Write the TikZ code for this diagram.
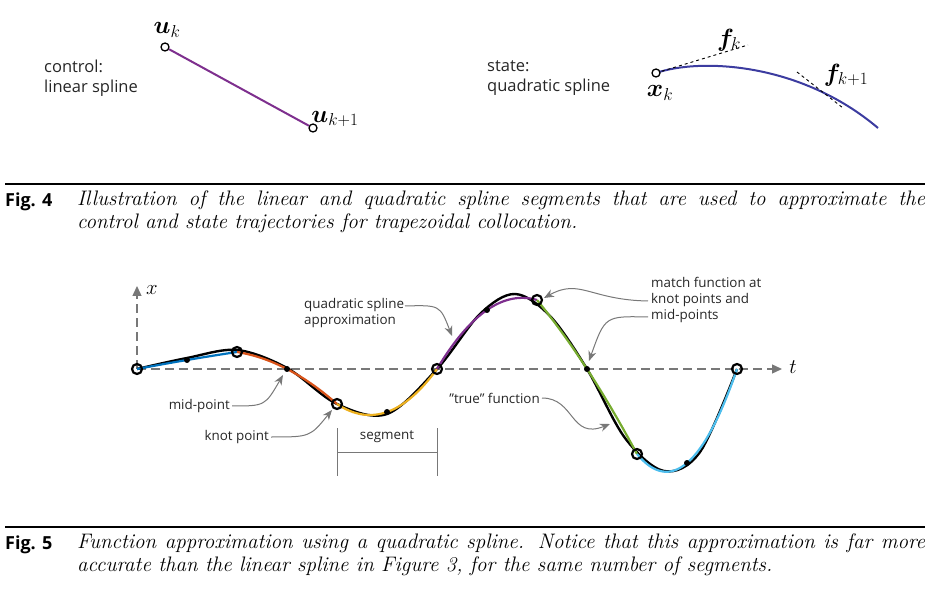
\documentclass[tikz,border=0pt]{standalone}
\usepackage{amsmath,bm}
\usepackage{fontspec}
\setsansfont{Open Sans}
\usetikzlibrary{calc,arrows.meta}
\definecolor{cblue}{RGB}{0,114,189}
\definecolor{corange}{RGB}{217,83,25}
\definecolor{cyellow}{RGB}{237,177,32}
\definecolor{cpurple}{RGB}{126,47,142}
\definecolor{cgreen}{RGB}{119,172,48}
\definecolor{ccyan}{RGB}{77,190,238}
\definecolor{cnavy}{RGB}{60,60,160}
\definecolor{annot}{RGB}{120,120,120}
\tikzset{
  ann/.style={font=\sffamily\fontsize{13.4}{16}\selectfont, text=black!85, inner sep=1pt},
  annarrow/.style={draw=annot, line width=1pt, -{Stealth[length=10pt,width=8pt]}},
  knot/.style={circle, draw=black, line width=2.2pt, fill=none, inner sep=0pt, minimum size=10pt},
  smallknot/.style={circle, draw=black, line width=1.3pt, fill=white, inner sep=0pt, minimum size=8pt},
  mid/.style={circle, fill=black, inner sep=0pt, minimum size=6pt},
  captext/.style={font=\fontsize{21}{23}\selectfont\itshape, anchor=north west, inner sep=0pt, text width=848pt, align=justify},
  figlab/.style={font=\sffamily\bfseries\fontsize{18}{20}\selectfont, anchor=north west, inner sep=0pt},
  axis/.style={draw=annot, dash pattern=on 9pt off 5pt, line width=1.3pt},
  mathlab/.style={font=\fontsize{24}{26}\selectfont, inner sep=0pt},
  toplab/.style={font=\sffamily\fontsize{16.5}{20}\selectfont, text=black!85, anchor=west, align=left, inner sep=0pt}
}
\begin{document}
\begin{tikzpicture}[x=1pt,y=-1pt]
\useasboundingbox (0,0) rectangle (943,612);
% ---------- Fig 4 ----------
\node[toplab] (ctl) at (44,78) {control:\\linear spline};
\node[smallknot] (uk) at (165,47) {};
\node[smallknot] (uk1) at (313,128) {};
\draw[cpurple, line width=2pt] (uk) -- (uk1);
\node[mathlab] (ukl) at (167,30) {$\bm{u}_k$};
\node[mathlab] (uk1l) at (335,119) {$\bm{u}_{k+1}$};
\node[toplab] (st) at (487,78) {state:\\quadratic spline};
\coordinate (xk) at (656,73);
\coordinate (xe) at (878,128);
\draw[cnavy, line width=2pt] (xk) .. controls (700,58) and (800,62) .. (xe);
\coordinate (fa) at (748,45);
\draw[dashed, line width=0.9pt] (xk) -- (fa);
\coordinate (fb1) at (797,72);
\coordinate (fb2) at (843,108);
\draw[dashed, line width=0.9pt] (fb1) -- (fb2);
\node[smallknot] (xkn) at (xk) {};
\node[mathlab] (xkl) at (660,93) {$\bm{x}_k$};
\node[mathlab] (fkl) at (729,40) {$\bm{f}_k$};
\node[mathlab] (fk1l) at (846,75) {$\bm{f}_{k+1}$};
% rule + caption 4
\draw[line width=2.5pt] (5,184) -- (925,184);
\node[figlab] (f4) at (5,193) {Fig. 4};
\node[captext] (c4) at (77,191) {Illustration of the linear and quadratic spline segments that are used to approximate the\linebreak control and state trajectories for trapezoidal collocation.};
% ---------- Fig 5 ----------
\coordinate (O) at (137,369);
\coordinate (ytop) at (137,286);
\coordinate (tend) at (782,369);
\draw[axis, -{Triangle[length=10pt,width=9pt]}] (O) -- (ytop);
\draw[axis, -{Triangle[length=10pt,width=9pt]}] (O) -- (tend);
\node[font=\fontsize{22}{24}\selectfont] (xl) at (152,290) {$x$};
\node[font=\fontsize{22}{24}\selectfont] (tl) at (793,367) {$t$};
\coordinate (k0) at (137,369); \coordinate (m0) at (187,360);
\coordinate (k1) at (237,352); \coordinate (m1) at (287,369);
\coordinate (k2) at (337,404); \coordinate (m2) at (387,412);
\coordinate (k3) at (437,369); \coordinate (m3) at (487,310);
\coordinate (k4) at (537,300); \coordinate (m4) at (587,369);
\coordinate (k5) at (637,454); \coordinate (m5) at (687,463);
\coordinate (k6) at (737,369);
\draw[black, line width=2.4pt] plot[smooth, tension=0.55] coordinates {
(137,369) (187,358) (237,350) (287,368) (337,404) (387,414) (437,369) (480,314) (515,294) (550,316) (587,369) (625,438) (664,471) (700,452) (737,369)};
\newcommand{\qseg}[4]{%
  \coordinate (qc) at ($2*(#2)-0.5*(#1)-0.5*(#3)$);
  \draw[#4, line width=2.2pt] (#1) .. controls ($(#1)!0.6667!(qc)$) and ($(#3)!0.6667!(qc)$) .. (#3);}
\qseg{k0}{m0}{k1}{cblue}
\qseg{k1}{m1}{k2}{corange}
\qseg{k2}{m2}{k3}{cyellow}
\qseg{k3}{m3}{k4}{cpurple}
\qseg{k4}{m4}{k5}{cgreen}
\qseg{k5}{m5}{k6}{ccyan}
\foreach \m in {m0,m1,m2,m3,m4,m5} \node[mid] (d\m) at (\m) {};
\foreach \k in {k0,k1,k2,k3,k4,k5,k6} \node[knot] (n\k) at (\k) {};
\coordinate (sa1) at (337,428); \coordinate (sa2) at (337,476);
\coordinate (sb1) at (437,428); \coordinate (sb2) at (437,476);
\coordinate (sm1) at (337,452); \coordinate (sm2) at (437,452);
\draw[annot, line width=1pt] (sa1) -- (sa2) (sb1) -- (sb2) (sm1) -- (sm2);
\node[ann] (seg) at (387,437) {segment};
\node[ann, anchor=west, align=left] (qsa) at (303,313) {quadratic spline\\approximation};
\coordinate (qsaA) at (405,306);
\coordinate (qsaB) at (452,336);
\draw[annarrow] (qsaA) .. controls (440,305) .. (qsaB);
\node[ann, anchor=west, align=left] (mf) at (650,300) {match function at\\knot points and\\mid-points};
\coordinate (mfA) at (648,301);
\coordinate (mfB) at (544,298);
\draw[annarrow] (mfA) .. controls (590,300) and (580,278) .. (mfB);
\coordinate (mfC) at (648,317);
\coordinate (mfD) at (589,361);
\draw[annarrow] (mfC) .. controls (605,316) .. (mfD);
\node[ann, anchor=east] (mp) at (231,406) {mid-point};
\coordinate (mpA) at (232,406);
\coordinate (mpB) at (283,375);
\draw[annarrow] (mpA) .. controls (265,406) .. (mpB);
\node[ann, anchor=east] (kp) at (270,437) {knot point};
\coordinate (kpA) at (271,437);
\coordinate (kpB) at (332,410);
\draw[annarrow] (kpA) .. controls (310,437) .. (kpB);
\node[ann, anchor=east] (tf) at (541,398) {"true" function};
\coordinate (tfA) at (542,398);
\coordinate (tfB) at (610,424);
\draw[annarrow] (tfA) .. controls (575,398) and (570,440) .. (tfB);
\draw[line width=2.5pt] (5,527) -- (925,527);
\node[figlab] (f5) at (5,536) {Fig. 5};
\node[captext] (c5) at (77,534) {Function approximation using a quadratic spline. Notice that this approximation is far more\linebreak accurate than the linear spline in Figure 3, for the same number of segments.};
\end{tikzpicture}
\end{document}
